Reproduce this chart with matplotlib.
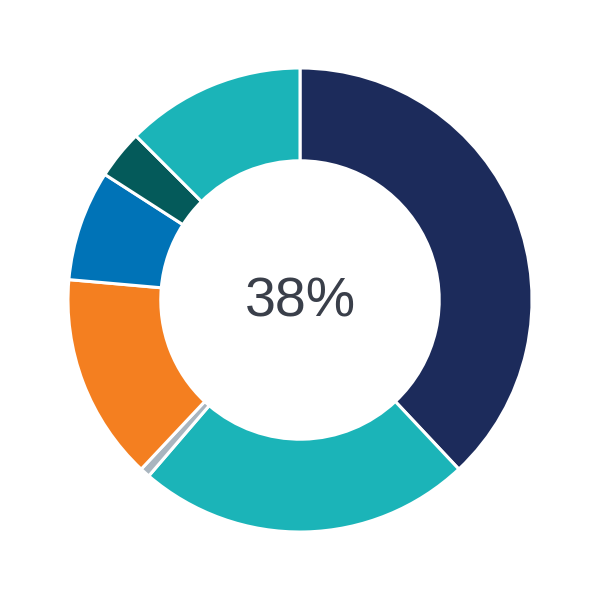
import matplotlib.pyplot as plt

# segment shares (%), clockwise from the top
labels = ['Navy', 'Teal', 'Grey', 'Orange', 'Blue', 'Dark teal', 'Teal 2']
shares = [38.0, 23.3, 0.7, 14.4, 7.7, 3.4, 12.5]
colors = ['#1c2b5b', '#1bb4b8', '#a9b5bf', '#f47f20', '#0073b7', '#045a5a', '#1bb4b8']
center_text = '38%'

fig = plt.figure(figsize=(6, 6), dpi=100, facecolor='white')
ax = fig.add_axes([0, 0, 1, 1])
ax.pie(shares, colors=colors, startangle=90, counterclock=False,
       radius=1.0, wedgeprops=dict(width=0.4, edgecolor='white', linewidth=2.2))
ax.set_xlim(-1.293, 1.293)
ax.set_ylim(-1.293, 1.293)
ax.set_aspect('equal')
ax.axis('off')
ax.text(0, -0.01, center_text, ha='center', va='center', fontsize=40,
        color='#3a3f4a', family='Liberation Sans')

plt.savefig('out.png', dpi=100, facecolor='white')
